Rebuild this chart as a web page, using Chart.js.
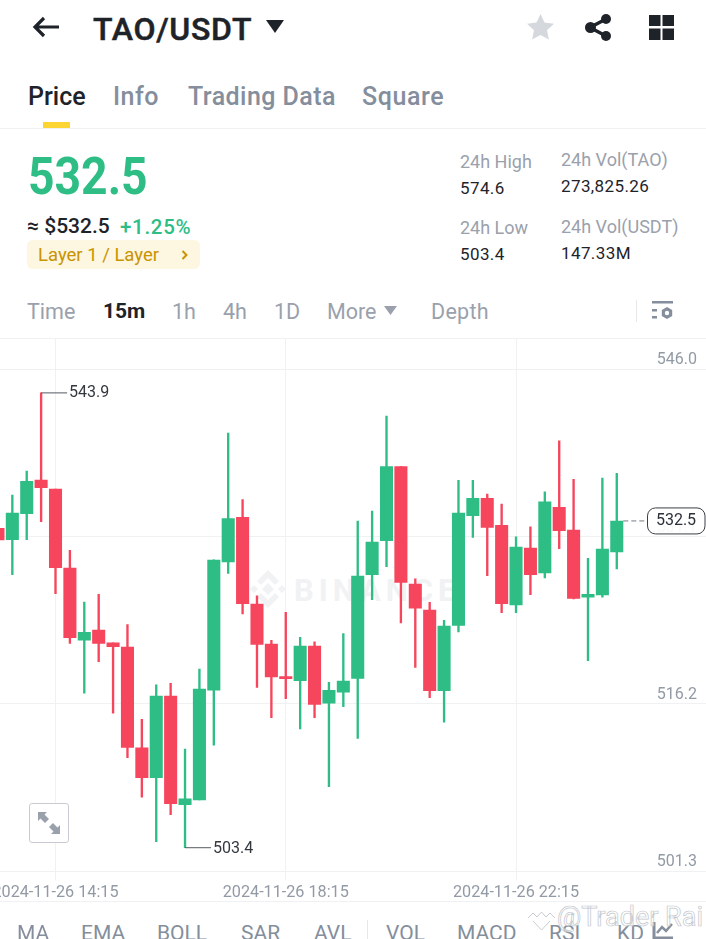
<!DOCTYPE html>
<html>
<head>
<meta charset="utf-8">
<title>TAO/USDT</title>
<script src="https://cdn.jsdelivr.net/npm/chart.js@4"></script>
<style>
html, body { margin: 0; padding: 0; background: #fff; }
body { width: 706px; height: 939px; position: relative; overflow: hidden; font-family: Roboto, sans-serif; color: #1e2329; }
.t { position: absolute; white-space: nowrap; line-height: 1; }
.gray { color: #848e9c; }
.light { color: #9aa1ac; }
.num { letter-spacing: .4px; }
.line { position: absolute; left: 0; width: 706px; height: 1px; background: #eff1f3; }
svg { position: absolute; overflow: visible; }
#chartBox { position: absolute; left: 0; top: 339px; }
</style>
</head>
<body>

<!-- top bar -->
<svg style="left:32px;top:16px" width="28" height="22" viewBox="0 0 28 22"><path d="M27 11H3M12 2L3 11l9 9" fill="none" stroke="#1e2329" stroke-width="3.2"/></svg>
<div class="t" style="left:93px;top:13px;font-size:32px;font-weight:500;letter-spacing:.7px;-webkit-text-stroke:.5px #1e2329">TAO/USDT</div>
<svg style="left:266px;top:20px" width="18" height="13"><path d="M0 0H18L9 13Z" fill="#1e2329"/></svg>
<svg style="left:527px;top:14px" width="27" height="26" viewBox="0 0 27 26"><path d="M13.5 0l4 8.6 9.5 1.1-7 6.5 1.9 9.4-8.4-4.7-8.400 4.700 1.900-9.400-7-6.500 9.500-1.100z" fill="#d5d8dd"/></svg>
<svg style="left:585px;top:14px" width="27" height="27" viewBox="0 0 27 27"><path d="M21 5L5 13.500 21 22" fill="none" stroke="#1e2329" stroke-width="3.500"/><circle cx="21" cy="5" r="5" fill="#1e2329"/><circle cx="5.500" cy="13.500" r="5.500" fill="#1e2329"/><circle cx="21" cy="22" r="5" fill="#1e2329"/></svg>
<svg style="left:649px;top:15px" width="25" height="25"><path d="M0 0h11.500v11H0zM13.500 0H25v11H13.500zM0 13.500h11.500V25H0zM13.500 13.500H25V25H13.500z" fill="#1e2329"/></svg>

<!-- tabs -->
<div class="t" style="left:28px;top:84px;font-size:25px;font-weight:500">Price</div>
<div class="t gray" style="left:113px;top:84px;font-size:25px;font-weight:500;letter-spacing:.5px">Info</div>
<div class="t gray" style="left:188px;top:84px;font-size:25px;font-weight:500;letter-spacing:.45px">Trading Data</div>
<div class="t gray" style="left:362px;top:84px;font-size:25px;font-weight:500;letter-spacing:.6px">Square</div>
<div style="position:absolute;left:43px;top:122px;width:27px;height:6px;background:#fcd535"></div>
<div class="line" style="top:128px"></div>

<!-- price block -->
<div class="t" style="left:28px;top:151px;font-size:52px;font-weight:700;color:#2ebd85;transform:scaleX(.89);transform-origin:left top">532.5</div>
<div class="t" style="left:27px;top:216px;font-size:21px;font-weight:500">≈ $532.5</div>
<div class="t" style="left:120px;top:217px;font-size:20.500px;font-weight:500;color:#2ebd85;letter-spacing:.7px">+1.25%</div>
<div style="position:absolute;left:27px;top:240px;width:173px;height:29px;border-radius:6px;background:#fdf6e0"></div>
<div class="t" style="left:38px;top:246px;font-size:18.500px;color:#c99400">Layer 1 / Layer</div>
<svg style="left:181px;top:250px" width="8" height="10"><path d="M1.500 1l4 4-4 4" fill="none" stroke="#c99400" stroke-width="2"/></svg>

<!-- 24h stats -->
<div class="t light" style="left:460px;top:153px;font-size:18px">24h High</div>
<div class="t num" style="left:460px;top:180px;font-size:17px">574.6</div>
<div class="t light" style="left:460px;top:219px;font-size:18px">24h Low</div>
<div class="t num" style="left:460px;top:246px;font-size:17px">503.4</div>
<div class="t light" style="left:561px;top:151px;font-size:18px">24h Vol(TAO)</div>
<div class="t num" style="left:561px;top:178px;font-size:17px">273,825.26</div>
<div class="t light" style="left:561px;top:218px;font-size:18px">24h Vol(USDT)</div>
<div class="t num" style="left:561px;top:245px;font-size:17px">147.33M</div>

<!-- interval row -->
<div class="t light" style="left:27px;top:301px;font-size:21.500px">Time</div>
<div class="t" style="left:103px;top:301px;font-size:21px;font-weight:700">15m</div>
<div class="t light" style="left:172px;top:301px;font-size:21.500px">1h</div>
<div class="t light" style="left:223px;top:301px;font-size:21.500px">4h</div>
<div class="t light" style="left:274px;top:301px;font-size:21.500px">1D</div>
<div class="t light" style="left:327px;top:301px;font-size:21.500px">More</div>
<svg style="left:384px;top:306px" width="13" height="9"><path d="M0 0H13L6.500 9Z" fill="#9aa1ac"/></svg>
<div class="t light" style="left:431px;top:301px;font-size:21.500px;letter-spacing:.3px">Depth</div>
<div style="position:absolute;left:636px;top:300px;width:1px;height:22px;background:#e6e8ea"></div>
<svg style="left:652px;top:300px" width="22" height="22"><path d="M0 1h21v2.500H0zM0 9h5v2.500H0zM0 16h5v2.500H0z" fill="#848e9c"/><path d="M15 7l5.200 3v6l-5.200 3-5.200-3v-6z" fill="#848e9c"/><circle cx="15" cy="13" r="2.200" fill="#fff"/></svg>
<div class="line" style="top:338px"></div>

<!-- watermark behind the chart -->
<svg style="left:250px;top:570px" width="36" height="38" viewBox="0 0 36 38"><path d="M18 0l11 11-4 4-7-7-7 7-4-4zM18 30l-7-7-4 4 11 11 11 -11-4-4zM0 19l4-4 4 4-4 4zM28 19l4-4 4 4-4 4zM18 13l6 6-6 6-6-6z" fill="#f1f2f4"/></svg>
<div class="t" style="left:294px;top:575px;font-size:31px;font-weight:700;color:#f1f2f4;letter-spacing:5px">BINANCE</div>

<div id="chartBox"><canvas id="kline" width="706" height="562"></canvas></div>

<!-- expand button -->
<div style="position:absolute;left:29px;top:803px;width:38px;height:38px;border:1px solid #c8ccd2;border-radius:3px;background:#fff"></div>
<svg style="left:37px;top:811px" width="24" height="24" viewBox="0 0 24 24"><path d="M1 1h9L7.500 3.500 12 8 8 12 3.500 7.500 1 10zM23 23h-9l2.500-2.500L12 16l4-4 4.500 4.500L23 14z" fill="#9aa1ac"/></svg>

<div class="line" style="top:901px"></div>

<!-- indicator row -->
<div class="t gray" style="left:17px;top:923px;font-size:21px">MA</div>
<div class="t gray" style="left:81px;top:923px;font-size:21px">EMA</div>
<div class="t gray" style="left:157px;top:923px;font-size:21px">BOLL</div>
<div class="t gray" style="left:241px;top:923px;font-size:21px">SAR</div>
<div class="t gray" style="left:314px;top:923px;font-size:21px">AVL</div>
<div style="position:absolute;left:367px;top:920px;width:1px;height:19px;background:#e6e8ea"></div>
<div class="t gray" style="left:386px;top:923px;font-size:21px">VOL</div>
<div class="t gray" style="left:457px;top:923px;font-size:21px">MACD</div>
<div class="t gray" style="left:549px;top:923px;font-size:21px">RSI</div>
<div class="t gray" style="left:617px;top:923px;font-size:21px">KD</div>
<svg style="left:653px;top:922px" width="20" height="17"><path d="M1 0v16h19" fill="none" stroke="#848e9c" stroke-width="3"/><path d="M4 11l5-6 4 4 6-7" fill="none" stroke="#848e9c" stroke-width="2.500"/></svg>

<!-- screenshot credit -->
<svg style="left:527px;top:908px" width="29" height="23" viewBox="0 0 29 23"><path d="M1 10l5-5 4 4 4.500-5 4.500 5 4-4 5 5M6 13l8.500 9 8.500-9" fill="none" stroke="#c8ccd2" stroke-width="1"/></svg>
<div class="t" style="left:557px;top:904px;font-size:27px;color:rgba(255,255,255,.55);-webkit-text-stroke:.7px #c3c7cd">@Trader Rai</div>

<script>
var xTickIndex = [4, 20, 36];
var xTickLabels = ["2024-11-26 14:15", "2024-11-26 18:15", "2024-11-26 22:15"];
var yTicks = [546.0, 531.1, 516.2, 501.3];

var highLabel = 543.9;
var lowLabel = 503.4;
var lastPrice = 532.5;

var opens = [531.84, 530.83, 533.14, 536.14, 535.34, 528.31, 521.89, 522.78, 521.65, 521.27, 512.30,
    509.63, 516.91, 507.23, 507.65, 517.44, 528.84, 532.82, 525.10, 521.54, 518.63, 518.27, 521.36,
    516.28, 517.26, 518.48, 527.71, 530.74, 537.33, 526.88, 524.57, 517.38, 523.20, 532.96, 534.51,
    532.11, 525.01, 530.09, 527.86, 533.71, 531.69, 525.70, 525.90, 529.73];
var closes = [530.80, 533.20, 536.03, 535.46, 528.33, 522.10, 522.58, 521.60, 521.30, 512.34, 509.63,
    516.91, 507.32, 507.76, 517.53, 529.01, 532.70, 525.13, 521.51, 518.60, 518.45, 521.36, 516.17,
    517.41, 518.24, 527.59, 530.62, 537.33, 527.03, 524.72, 517.38, 523.14, 533.20, 534.51, 531.93,
    525.13, 530.18, 527.71, 534.21, 531.63, 525.61, 525.96, 530.00, 532.49];
var highs = [532.22, 534.81, 536.94, 543.90, 535.34, 529.88, 525.28, 525.96, 521.65, 523.26, 514.83,
    517.91, 518.04, 512.19, 519.31, 529.04, 540.33, 534.39, 525.84, 521.87, 524.36, 522.13, 521.74,
    518.13, 522.46, 532.49, 533.38, 541.84, 537.33, 527.35, 525.25, 523.65, 536.12, 536.12, 534.90,
    534.00, 531.09, 531.98, 535.10, 539.64, 536.20, 529.17, 536.32, 536.74];
var lows = [530.80, 527.71, 530.83, 532.43, 526.02, 521.60, 517.17, 519.96, 515.37, 511.41, 507.91,
    503.93, 506.34, 503.40, 507.65, 512.54, 527.83, 524.21, 517.68, 514.98, 516.67, 513.97, 514.98,
    508.83, 515.95, 513.14, 525.48, 528.42, 523.41, 519.46, 516.76, 514.57, 522.61, 531.04, 527.62,
    524.33, 524.33, 525.93, 527.42, 530.02, 525.55, 520.05, 525.70, 528.22];

var upColor = "#2ebd85";
var downColor = "#f6465d";
var candleColors = opens.map(function (o, i) { return closes[i] >= o ? upColor : downColor; });

var wickData = highs.map(function (h, i) { return { x: i, y: [lows[i], h] }; });
var bodyData = opens.map(function (o, i) { return { x: i, y: [o, closes[i]] }; });

// high / low tags and the last price box
var tagsPlugin = {
    id: "tags",
    afterDraw: function (chart) {
        var c = chart.ctx, xs = chart.scales.x, ys = chart.scales.y;
        c.save();
        c.font = "16px Roboto";
        c.textBaseline = "middle";
        c.textAlign = "left";

        var hx = xs.getPixelForValue(highs.indexOf(highLabel)), hy = ys.getPixelForValue(highLabel);
        c.strokeStyle = "#555b63";
        c.lineWidth = 1;
        c.beginPath(); c.moveTo(hx, hy); c.lineTo(hx + 26, hy); c.stroke();
        c.fillStyle = "#33383f";
        c.fillText(highLabel.toFixed(1), hx + 28, hy);

        var lx = xs.getPixelForValue(lows.indexOf(lowLabel)), ly = ys.getPixelForValue(lowLabel);
        c.beginPath(); c.moveTo(lx, ly); c.lineTo(lx + 26, ly); c.stroke();
        c.fillText(lowLabel.toFixed(1), lx + 28, ly + 1.5);

        var py = ys.getPixelForValue(lastPrice);
        var px = xs.getPixelForValue(opens.length - 1) + 6.5;
        c.setLineDash([5, 3]);
        c.strokeStyle = "#777d85";
        c.beginPath(); c.moveTo(px, py); c.lineTo(646, py); c.stroke();
        c.setLineDash([]);

        c.beginPath();
        c.roundRect(647.5, py - 13, 57.5, 26, 8);
        c.fillStyle = "rgba(255,255,255,.93)";
        c.fill();
        c.strokeStyle = "#3a3f46";
        c.stroke();
        c.fillStyle = "#2b3038";
        c.textAlign = "center";
        c.fillText(lastPrice.toFixed(1), 676, py + 0.5);
        c.restore();
    }
};

new Chart(document.getElementById("kline").getContext("2d"), {
    type: "bar",
    data: {
        datasets: [
            { data: wickData, backgroundColor: candleColors, barThickness: 1.7, grouped: false, borderSkipped: false },
            { data: bodyData, backgroundColor: candleColors, barThickness: 12.4, grouped: false, borderSkipped: false }
        ]
    },
    options: {
        responsive: false,
        animation: false,
        layout: { padding: 0 },
        plugins: { legend: { display: false }, tooltip: { enabled: false } },
        scales: {
            x: {
                type: "linear",
                offset: false,
                min: 0.143,
                max: 49.2,
                afterBuildTicks: function (axis) {
                    axis.ticks = xTickIndex.map(function (v) { return { value: v }; });
                },
                afterFit: function (axis) {
                    axis.height = 29.7;
                    axis.paddingLeft = 0;
                    axis.paddingRight = 0;
                },
                border: { display: false },
                grid: { offset: false, color: "#f0f1f3", tickColor: "#f0f1f3", tickLength: 9, lineWidth: 1 },
                ticks: {
                    autoSkip: false,
                    maxRotation: 0,
                    padding: 3,
                    color: "#929aa5",
                    font: { family: "Roboto", size: 16.2 },
                    callback: function (v) { return xTickLabels[xTickIndex.indexOf(v)]; }
                }
            },
            y: {
                position: "right",
                min: 501.3,
                max: 548.7,
                afterBuildTicks: function (axis) {
                    axis.ticks = yTicks.map(function (v) { return { value: v }; });
                },
                afterFit: function (axis) {
                    // mirrored labels sit inside the plot, so the axis takes no room
                    axis.width = 0;
                    axis.paddingTop = 0;
                    axis.paddingBottom = 0;
                },
                border: { display: false },
                grid: { color: "#eff1f3", drawTicks: false, lineWidth: 1 },
                ticks: {
                    mirror: true,
                    padding: -9,
                    labelOffset: -9,
                    color: "#929aa5",
                    font: { family: "Roboto", size: 16 },
                    callback: function (v) { return v.toFixed(1); }
                }
            }
        }
    },
    plugins: [tagsPlugin]
});
</script>
</body>
</html>
